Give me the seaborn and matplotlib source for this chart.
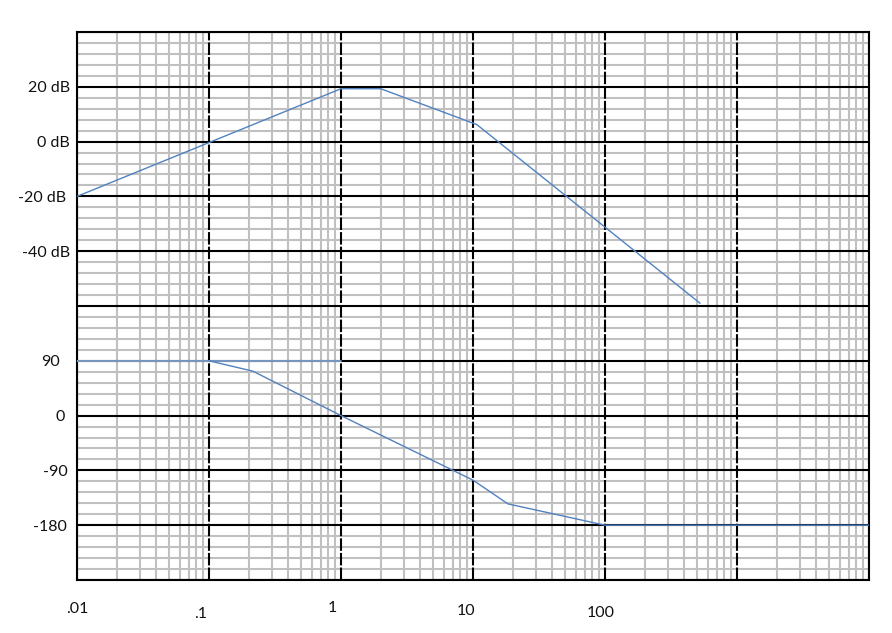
import numpy as np
import matplotlib
matplotlib.use("Agg")
import matplotlib.pyplot as plt
import matplotlib.transforms as mtrans
import pandas as pd
import seaborn as sns

# magnitude asymptote (dB) vs frequency
freq_mag = [0.01, 1, 2, 10.7, 525]
mag_db = [-20, 19.3, 19.3, 6.2, -59]

# phase (deg) vs frequency
freq_ph_flat = [0.01, 1]
ph_flat = [90, 90]
freq_ph = [0.1, 0.215, 1, 10, 18.4, 100, 10000]
phase_deg = [90, 73, 0, -106, -145, -180, -180]

x_ticks = [0.01, 0.1, 1, 10, 100, 1000, 10000]
x_labels = ['.01', '.1', '1', '10', '100', '', '']
x_label_dx = [0, -8, -9, -7, -4, 0, 0]   # px nudges as in the original
x_label_dy = [-2, 3, -3, 0, 2, 0, 0]     # px, positive = lower
y_ticks = list(range(0, 11))
y_labels = ['', '-180', '-90', '0', '90', '', '-40 dB', '-20 dB ', '0 dB', '20 dB', '']
y_pads = [0, 2, 2, 4, 7, 0, 0, 0, 0, 0, 0]

sns.set_style("white")
plt.rcParams['font.family'] = ['Lato', 'DejaVu Sans']

# two stacked panels share one y scale: 1 unit = 20 dB or 90 deg
df_mag = pd.DataFrame({'f': freq_mag, 'y': [8 + v / 20 for v in mag_db]})
df_flat = pd.DataFrame({'f': freq_ph_flat, 'y': [3 + v / 90 for v in ph_flat]})
df_ph = pd.DataFrame({'f': freq_ph, 'y': [3 + v / 90 for v in phase_deg]})

fig = plt.figure(figsize=(8.92, 6.33), dpi=100)
ax = fig.add_axes([77 / 892, 1 - 580 / 633, 792 / 892, 548 / 633])
ax.set_xscale('log')
ax.set_xlim(0.01, 10000)
ax.set_ylim(0, 10)

# minor grid
minor_x = [d * m for d in x_ticks[:-1] for m in range(2, 10)]
for x in minor_x:
    ax.axvline(x, color='#c0c0c0', lw=1.5, zorder=0.8)
for y in np.arange(0, 10, 0.2):
    if abs(y - round(y)) > 1e-6:
        ax.axhline(y, color='#c0c0c0', lw=1.5, zorder=0.8)
# major grid
for y in y_ticks:
    ax.axhline(y, color='black', lw=1.5, zorder=1)
for x in x_ticks:
    ax.axvline(x, color='black', lw=1.5, ls=(0, (6, 1)), zorder=1)

sns.lineplot(data=df_mag, x='f', y='y', sort=False, estimator=None,
             color='#5182c0', lw=1.0, ax=ax, zorder=3)
sns.lineplot(data=df_flat, x='f', y='y', sort=False, estimator=None,
             color='#8db3e2', lw=1.2, ax=ax, zorder=3)
sns.lineplot(data=df_ph, x='f', y='y', sort=False, estimator=None,
             color='#5182c0', lw=1.0, ax=ax, zorder=3)

ax.set_xlabel('')
ax.set_ylabel('')
ax.set_xticks(x_ticks)
ax.set_xticklabels(x_labels)
ax.xaxis.set_minor_locator(matplotlib.ticker.NullLocator())
ax.set_yticks(y_ticks)
ax.set_yticklabels(y_labels)
ax.tick_params(axis='both', which='major', direction='inout', length=10,
               width=1.3, color='black', labelsize=11.5, labelcolor='#111111')
ax.tick_params(axis='x', pad=12)
ax.tick_params(axis='y', pad=0)
for t, p in zip(ax.yaxis.get_major_ticks(), y_pads):
    t.set_pad(p)
for lab, dx, dy in zip(ax.get_xticklabels(), x_label_dx, x_label_dy):
    lab.set_transform(lab.get_transform() +
                      mtrans.ScaledTranslation(dx / 100, -dy / 100, fig.dpi_scale_trans))

for s in ['left', 'right']:
    ax.spines[s].set_linestyle((0, (6, 1)))
for s in ax.spines.values():
    s.set_color('black')
    s.set_linewidth(1.5)
    s.set_zorder(1.2)

fig.savefig('out.png', dpi=100)
